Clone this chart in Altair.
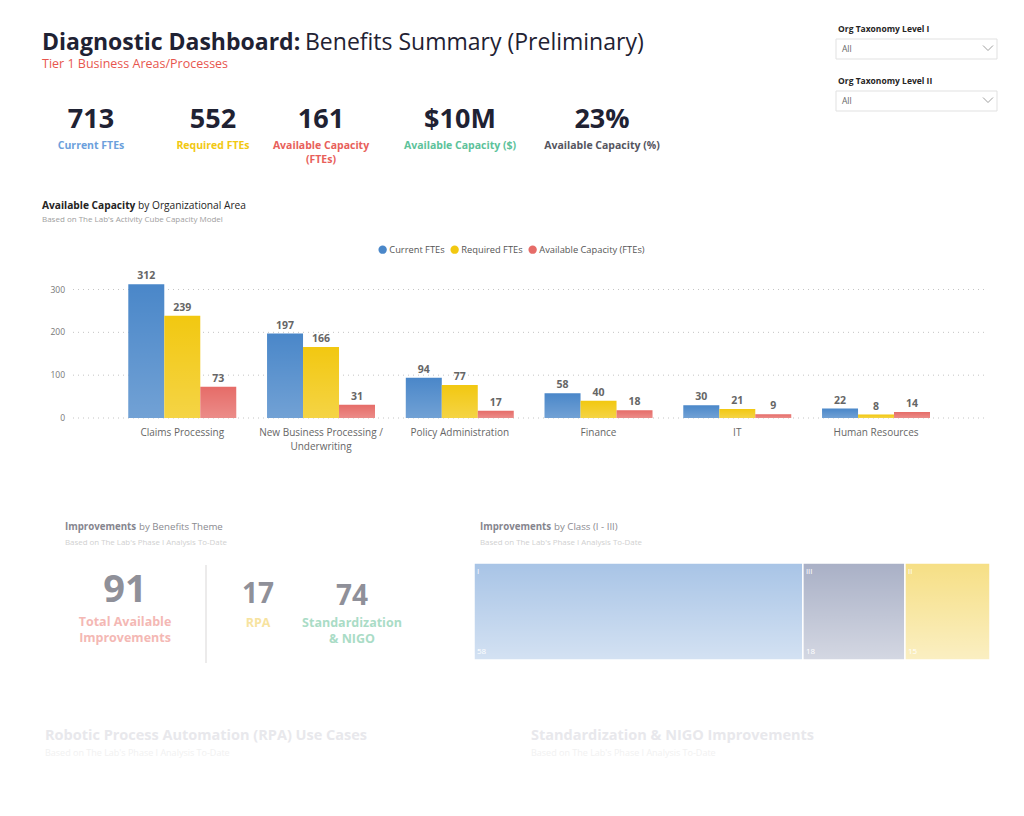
import altair as alt
import pandas as pd

FONT = "Open Sans"
INK = "#1f2233"
GREY = "#666666"

# ---------------- data ----------------
areas = [
    "Claims Processing",
    "New Business Processing / Underwriting",
    "Policy Administration",
    "Finance",
    "IT",
    "Human Resources",
]
current_ftes = [312, 197, 94, 58, 30, 22]
required_ftes = [239, 166, 77, 40, 21, 8]
available_ftes = [73, 31, 17, 18, 9, 14]
series_names = ["Current FTEs", "Required FTEs", "Available Capacity (FTEs)"]
series_colors = ["#4a87c9", "#f2c811", "#e66c68"]
y_ticks = [0, 100, 200, 300]

kpi_values = ["713", "552", "161", "$10M", "23%"]
kpi_labels = [
    "Current FTEs",
    "Required FTEs",
    "Available Capacity\n(FTEs)",
    "Available Capacity ($)",
    "Available Capacity (%)",
]
kpi_colors = ["#6c9fdc", "#f2c811", "#e8605a", "#5cc29a", "#555560"]

theme_values = ["91", "17", "74"]
theme_labels = ["Total Available\nImprovements", "RPA", "Standardization\n& NIGO"]
theme_colors = ["#f4b8b4", "#f7e3a0", "#aadcc6"]

classes = ["I", "III", "II"]
class_counts = [58, 18, 15]
class_colors = ["#a8c4e6", "#a9b0c6", "#f6df85"]

# ---------------- helpers ----------------
one_row = pd.DataFrame({"k": [0]})


def txt(s, x, y, size, color, weight="normal", align="left", baseline="middle", line_height=None):
    props = dict(text=s, fontSize=size, color=color, fontWeight=weight,
                 align=align, baseline=baseline, font=FONT)
    if "\n" in s:
        props["lineBreak"] = "\n"
        props["lineHeight"] = line_height or size * 1.3
    return alt.Chart(one_row).mark_text(**props).encode(x=alt.value(x), y=alt.value(y))


def box(x0, x1, y0, y1, fill="white", stroke="#e1e1e1"):
    return alt.Chart(one_row).mark_rect(fill=fill, stroke=stroke, strokeWidth=1).encode(
        x=alt.value(x0), x2=alt.value(x1), y=alt.value(y0), y2=alt.value(y1))


def chevron(x, y):
    return alt.Chart(one_row).mark_point(
        shape="M-1,-0.5L0,0.5L1,-0.5", filled=False, size=100,
        stroke="#777777", strokeWidth=1).encode(x=alt.value(x), y=alt.value(y))


def sheen(alpha):
    return alt.LinearGradient(
        gradient="linear", x1=0, y1=0, x2=0, y2=1,
        stops=[alt.GradientStop(color="rgba(255,255,255,0)", offset=0),
               alt.GradientStop(color=f"rgba(255,255,255,{alpha})", offset=1)])


layers = []

# ---------------- header ----------------
layers.append(txt("Diagnostic Dashboard:", 42, 50, 23, INK, "bold", baseline="alphabetic"))
layers.append(txt("Benefits Summary (Preliminary)", 305, 50, 23, INK, baseline="alphabetic"))
layers.append(txt("Tier 1 Business Areas/Processes", 42, 64, 12.5, "#e8564e"))

kpi_x = [91, 213, 321, 460, 602]
for v, lab, col, cx in zip(kpi_values, kpi_labels, kpi_colors, kpi_x):
    layers.append(txt(v, cx, 120, 27, INK, "bold", align="center"))
    layers.append(txt(lab, cx, 141, 10.5, col, "bold", align="center", baseline="top", line_height=14))

# slicers
for label, y0 in [("Org Taxonomy Level I", 29), ("Org Taxonomy Level II", 81)]:
    layers.append(txt(label, 838, y0, 8.5, "#252423", "bold"))
    layers.append(box(836, 997, y0 + 10, y0 + 30))
    layers.append(txt("All", 842, y0 + 20, 8.5, GREY))
    layers.append(chevron(988, y0 + 19))

# ---------------- capacity bar chart ----------------
layers.append(txt("Available Capacity", 42, 206, 10.2, "#252423", "bold"))
layers.append(txt("by Organizational Area", 138, 206, 10.2, "#252423"))
layers.append(txt("Based on The Lab's Activity Cube Capacity Model", 42, 220, 8, "#a0a0a0"))

x_area = alt.Scale(type="band", domain=areas, range=[112.9, 945.4], paddingInner=0.222, paddingOuter=0.111)
x_off = alt.Scale(type="band", domain=series_names, paddingInner=0, paddingOuter=0)
y_fte = alt.Scale(domain=[0, 300], range=[418, 289.5], nice=False, zero=False)

grid_df = pd.DataFrame({"tick": y_ticks})
layers.append(alt.Chart(grid_df).mark_rule(strokeDash=[1, 4], color="#c4c4c4", strokeWidth=1).encode(
    y=alt.Y("tick:Q", scale=y_fte, axis=None), x=alt.value(73), x2=alt.value(988)))
layers.append(alt.Chart(grid_df).mark_text(align="right", baseline="middle", fontSize=8.5,
                                           color="#777777", font=FONT).encode(
    y=alt.Y("tick:Q", scale=y_fte, axis=None), x=alt.value(65), text="tick:Q"))

bars_df = pd.DataFrame({
    "area": [a for a in areas for _ in series_names],
    "series": series_names * len(areas),
    "fte": [v for trio in zip(current_ftes, required_ftes, available_ftes) for v in trio],
})
bar_base = alt.Chart(bars_df).encode(
    x=alt.X("area:N", scale=x_area, axis=None),
    xOffset=alt.XOffset("series:N", scale=x_off),
    y=alt.Y("fte:Q", scale=y_fte, axis=None),
)
layers.append(bar_base.mark_bar().encode(
    color=alt.Color("series:N", scale=alt.Scale(domain=series_names, range=series_colors),
                    legend=alt.Legend(orient="none", legendX=378, legendY=245, direction="horizontal",
                                      title=None, symbolType="circle", symbolSize=70,
                                      symbolStrokeWidth=0, labelFontSize=9.3, labelColor="#555555",
                                      labelFont=FONT, columnPadding=5, labelOffset=2, padding=0))))
layers.append(bar_base.mark_bar(fill=sheen(0.22)))
layers.append(alt.Chart(bars_df).mark_text(dy=-8, fontSize=10.5, fontWeight="bold", color="#666666",
                                           font=FONT).encode(
    x=alt.X("area:N", scale=x_area, axis=None, bandPosition=0),
    xOffset=alt.XOffset("series:N", scale=x_off, bandPosition=0.5),
    y=alt.Y("fte:Q", scale=y_fte, axis=None),
    text="fte:Q"))

area_df = pd.DataFrame({"area": areas, "label": [a.replace("/ ", "/\n") for a in areas]})
layers.append(alt.Chart(area_df).mark_text(lineBreak="\n", lineHeight=14, baseline="top", fontSize=10,
                                           color="#666666", font=FONT).encode(
    x=alt.X("area:N", scale=x_area, axis=None, bandPosition=0.5), y=alt.value(428), text="label:N"))

# ---------------- improvements by theme ----------------
layers.append(txt("Improvements", 65, 527, 9.7, "#85858e", "bold"))
layers.append(txt("by Benefits Theme", 139, 527, 9.7, "#8a8a90"))
layers.append(txt("Based on The Lab's Phase I Analysis To-Date", 65, 543, 7.9, "#d0d0d0"))

layers.append(alt.Chart(one_row).mark_rule(color="#ecebeb", strokeWidth=2).encode(
    x=alt.value(206), y=alt.value(565), y2=alt.value(663)))

theme_pos = [(125, 591, 38), (258, 595, 28), (352, 597, 28)]
for v, lab, col, (cx, cy, fs) in zip(theme_values, theme_labels, theme_colors, theme_pos):
    layers.append(txt(v, cx, cy, fs, "#8f9099", "bold", align="center"))
    layers.append(txt(lab, cx, 617 if cx != 125 else 616, 12.5, col, "bold", align="center",
                      baseline="top", line_height=16))

# ---------------- improvements by class (treemap strip) ----------------
layers.append(txt("Improvements", 480, 527, 9.7, "#85858e", "bold"))
layers.append(txt("by Class (I - III)", 554, 527, 9.7, "#8a8a90"))
layers.append(txt("Based on The Lab's Phase I Analysis To-Date", 480, 543, 7.9, "#d0d0d0"))

class_df = pd.DataFrame({"cls": classes, "count": class_counts, "order": range(len(classes))})
x_class = alt.Scale(domain=[0, sum(class_counts)], range=[474, 990], nice=False, zero=False)
strip = alt.Chart(class_df).transform_stack(
    stack="count", groupby=[], as_=["c0", "c1"], sort=[alt.SortField("order")]
).encode(
    x=alt.X("c0:Q", scale=x_class, axis=None), x2="c1:Q",
)
layers.append(strip.mark_rect(stroke="white", strokeWidth=1.5).encode(
    y=alt.value(563), y2=alt.value(660),
    color=alt.Color("cls:N", scale=alt.Scale(domain=classes, range=class_colors), legend=None)))
layers.append(strip.mark_rect(fill=sheen(0.5)).encode(y=alt.value(563), y2=alt.value(660)))
layers.append(strip.mark_text(align="left", baseline="middle", dx=3, fontSize=8, color="white",
                              font=FONT).encode(y=alt.value(572), text="cls:N"))
layers.append(strip.mark_text(align="left", baseline="middle", dx=3, fontSize=8, color="white",
                              font=FONT).encode(y=alt.value(652), text="count:Q"))

# ---------------- faded lower panels ----------------
layers.append(txt("Robotic Process Automation (RPA) Use Cases", 45, 736, 14.5, "#e8e8ec", "bold"))
layers.append(txt("Based on The Lab's Phase I Analysis To-Date", 45, 753, 9, "#f1f1f1"))
layers.append(txt("Standardization & NIGO Improvements", 531, 736, 14.5, "#e8e8ec", "bold"))
layers.append(txt("Based on The Lab's Phase I Analysis To-Date", 531, 753, 9, "#f1f1f1"))

chart = alt.layer(*layers).resolve_scale(
    x="independent", y="independent", color="independent", xOffset="independent"
).properties(
    width=1024, height=816, padding=0, background="white",
    autosize=alt.AutoSizeParams(type="none"),
).configure_view(stroke=None)

chart.save("out.html", embed_options={"renderer": "svg", "actions": False})
